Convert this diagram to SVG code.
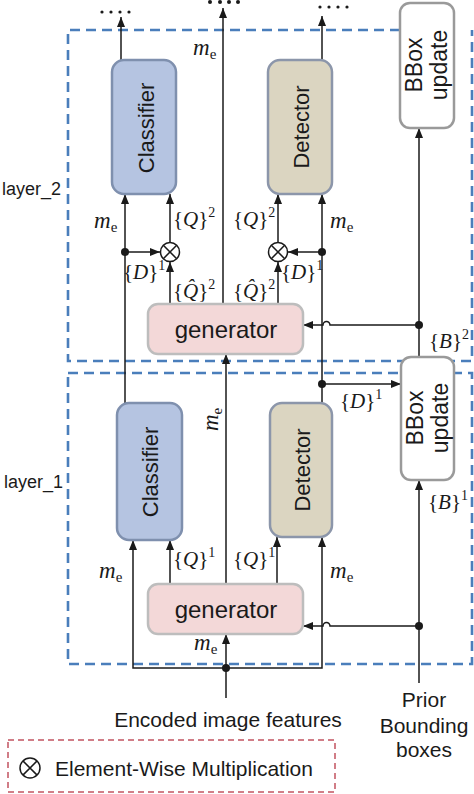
<svg xmlns="http://www.w3.org/2000/svg" width="474" height="794" viewBox="0 0 474 794">
<defs>
<marker id="ah" markerWidth="10" markerHeight="8" refX="10" refY="4" orient="auto" markerUnits="userSpaceOnUse"><path d="M0,0 L10,4 L0,8 z" fill="#1a1a1a"/></marker>
<style>
.ln{fill:none;stroke:#1a1a1a;stroke-width:1.5}
.arr{fill:none;stroke:#1a1a1a;stroke-width:1.5;marker-end:url(#ah)}
.dot{fill:#1a1a1a}
.lay{fill:none;stroke:#4a7ebb;stroke-width:2.6;stroke-dasharray:10 6}
.cls{fill:#b5c4e1;stroke:#7f90ae;stroke-width:2.5}
.det{fill:#dbd5c1;stroke:#8c96aa;stroke-width:2.5}
.gen{fill:#f3d8d8;stroke:#bdbdbd;stroke-width:2.5}
.bb{fill:#ffffff;stroke:#9a9a9a;stroke-width:2.5}
.t{font-family:"Liberation Sans",Arial,sans-serif;fill:#1a1a1a}
.m{font-family:"Liberation Serif","Times New Roman",serif;fill:#1a1a1a;font-size:21px}
.it{font-style:italic}
.otimes{fill:#ffffff;stroke:#1a1a1a;stroke-width:1.5}
</style>
</defs>

<g id="layers">
<path class="lay" d="M400,30 H68 V361 H472 V30"/>
<rect class="lay" x="68" y="373" width="404" height="291"/>
<text class="t" x="61" y="195" font-size="18" text-anchor="end">layer_2</text>
<text class="t" x="63" y="488" font-size="18" text-anchor="end">layer_1</text>
</g>

<g id="connectors">
<line class="arr" x1="121" y1="60" x2="121" y2="17"/>
<line class="arr" x1="322" y1="60" x2="322" y2="16"/>
<line class="arr" x1="223" y1="304" x2="223" y2="8"/>
<line class="arr" x1="125" y1="403" x2="125" y2="194"/>
<line class="arr" x1="125" y1="252" x2="160" y2="252"/>
<line class="arr" x1="170" y1="242" x2="170" y2="194"/>
<line class="arr" x1="170" y1="304" x2="170" y2="262"/>
<line class="arr" x1="322" y1="403" x2="322" y2="194"/>
<line class="arr" x1="322" y1="252" x2="288" y2="252"/>
<line class="arr" x1="278" y1="242" x2="278" y2="194"/>
<line class="arr" x1="278" y1="304" x2="278" y2="262"/>
<line class="arr" x1="419" y1="357" x2="419" y2="128"/>
<path class="arr" d="M419,325 H330 A3.5,3.5 0 0 0 323,325 H303"/>
<line class="arr" x1="322" y1="384" x2="401" y2="384"/>
<line class="arr" x1="419" y1="683" x2="419" y2="480"/>
<path class="arr" d="M419,626 H330 A3.5,3.5 0 0 0 323,626 H303"/>
<line class="arr" x1="226" y1="584" x2="226" y2="354"/>
<path class="arr" d="M226,668 H133 V540"/>
<path class="arr" d="M226,668 H322 V537"/>
<line class="arr" x1="170" y1="584" x2="170" y2="540"/>
<line class="arr" x1="277" y1="584" x2="277" y2="537"/>
<line class="arr" x1="226" y1="698" x2="226" y2="634"/>
<circle class="dot" cx="125" cy="252" r="4"/>
<circle class="dot" cx="322" cy="252" r="4"/>
<circle class="dot" cx="419" cy="325" r="4"/>
<circle class="dot" cx="322" cy="384" r="4"/>
<circle class="dot" cx="419" cy="626" r="4"/>
<circle class="dot" cx="226" cy="668" r="4"/>
<g class="dot">
<circle cx="102" cy="12" r="1.6"/><circle cx="111" cy="12" r="1.6"/><circle cx="120" cy="12" r="1.6"/><circle cx="129" cy="12" r="1.6"/>
<circle cx="320" cy="7" r="1.6"/><circle cx="329" cy="7" r="1.6"/><circle cx="338" cy="7" r="1.6"/><circle cx="347" cy="7" r="1.6"/>
<circle cx="210" cy="2" r="2"/><circle cx="220" cy="2" r="2"/><circle cx="229" cy="2" r="2"/><circle cx="238" cy="2" r="2"/>
</g>
</g>

<g id="mult-left">
<circle class="otimes" cx="170" cy="252" r="9.5"/>
<path class="ln" d="M163.3,245.3 L176.7,258.7 M176.7,245.3 L163.3,258.7"/>
</g>
<g id="mult-right">
<circle class="otimes" cx="278" cy="252" r="9.5"/>
<path class="ln" d="M271.3,245.3 L284.7,258.7 M284.7,245.3 L271.3,258.7"/>
</g>

<g id="classifier2">
<rect class="cls" x="112" y="60" width="64" height="134" rx="12"/>
<text class="t" font-size="22" text-anchor="middle" transform="translate(146,128) rotate(-90)" y="8">Classifier</text>
</g>
<g id="detector2">
<rect class="det" x="268" y="60" width="64" height="134" rx="12"/>
<text class="t" font-size="22" text-anchor="middle" transform="translate(301,127) rotate(-90)" y="8">Detector</text>
</g>
<g id="bbox2">
<rect class="bb" x="400" y="3" width="54" height="125" rx="10"/>
<text class="t" font-size="23" text-anchor="middle" transform="translate(0,65) rotate(-90)"><tspan x="0" y="422">BBox</tspan><tspan x="0" y="447">update</tspan></text>
</g>
<g id="generator2">
<rect class="gen" x="148" y="304" width="155" height="50" rx="10"/>
<text class="t" x="226" y="338" font-size="24" text-anchor="middle">generator</text>
</g>
<g id="classifier1">
<rect class="cls" x="117" y="403" width="65" height="137" rx="12"/>
<text class="t" font-size="22" text-anchor="middle" transform="translate(150,472) rotate(-90)" y="8">Classifier</text>
</g>
<g id="detector1">
<rect class="det" x="270" y="403" width="62" height="134" rx="12"/>
<text class="t" font-size="22" text-anchor="middle" transform="translate(302,470) rotate(-90)" y="8">Detector</text>
</g>
<g id="bbox1">
<rect class="bb" x="401" y="357" width="53" height="123" rx="10"/>
<text class="t" font-size="23" text-anchor="middle" transform="translate(0,418) rotate(-90)"><tspan x="0" y="423">BBox</tspan><tspan x="0" y="448">update</tspan></text>
</g>
<g id="generator1">
<rect class="gen" x="148" y="584" width="155" height="50" rx="10"/>
<text class="t" x="226" y="618" font-size="24" text-anchor="middle">generator</text>
</g>

<g id="labels">
<text class="m" x="193" y="55"><tspan class="it" font-size="23">m</tspan><tspan font-size="15" dy="4">e</tspan></text>
<text class="m" x="94" y="228"><tspan class="it" font-size="23">m</tspan><tspan font-size="15" dy="4">e</tspan></text>
<text class="m" x="330" y="228"><tspan class="it" font-size="23">m</tspan><tspan font-size="15" dy="4">e</tspan></text>
<text class="m" x="173" y="226">{<tspan class="it">Q</tspan>}<tspan font-size="14" dy="-9">2</tspan></text>
<text class="m" x="233" y="226">{<tspan class="it">Q</tspan>}<tspan font-size="14" dy="-9">2</tspan></text>
<text class="m" x="123" y="279">{<tspan class="it">D</tspan>}<tspan font-size="14" dy="-9">1</tspan></text>
<text class="m" x="281" y="279">{<tspan class="it">D</tspan>}<tspan font-size="14" dy="-9">1</tspan></text>
<text class="m" x="173" y="298">{<tspan class="it">Q̂</tspan>}<tspan font-size="14" dy="-9">2</tspan></text>
<text class="m" x="233" y="298">{<tspan class="it">Q̂</tspan>}<tspan font-size="14" dy="-9">2</tspan></text>
<text class="m" x="429" y="348">{<tspan class="it">B</tspan>}<tspan font-size="14" dy="-9">2</tspan></text>
<text class="m" x="340" y="408">{<tspan class="it">D</tspan>}<tspan font-size="14" dy="-9">1</tspan></text>
<text class="m" x="428" y="509">{<tspan class="it">B</tspan>}<tspan font-size="14" dy="-9">1</tspan></text>
<text class="m" transform="translate(218,431) rotate(-90)"><tspan class="it" font-size="23">m</tspan><tspan font-size="15" dy="4">e</tspan></text>
<text class="m" x="173" y="566">{<tspan class="it">Q</tspan>}<tspan font-size="14" dy="-9">1</tspan></text>
<text class="m" x="233" y="566">{<tspan class="it">Q</tspan>}<tspan font-size="14" dy="-9">1</tspan></text>
<text class="m" x="99" y="578"><tspan class="it" font-size="23">m</tspan><tspan font-size="15" dy="4">e</tspan></text>
<text class="m" x="330" y="578"><tspan class="it" font-size="23">m</tspan><tspan font-size="15" dy="4">e</tspan></text>
<text class="m" x="194" y="650"><tspan class="it" font-size="23">m</tspan><tspan font-size="15" dy="4">e</tspan></text>
<text class="t" x="228" y="727" font-size="21" text-anchor="middle">Encoded image features</text>
<text class="t" font-size="21" text-anchor="middle"><tspan x="424" y="707">Prior</tspan><tspan x="424" y="733">Bounding</tspan><tspan x="424" y="757">boxes</tspan></text>
</g>

<g id="legend">
<rect x="8" y="740" width="327" height="52" fill="none" stroke="#c25360" stroke-width="1.5" stroke-dasharray="6 4"/>
<circle class="otimes" cx="30" cy="768" r="10"/>
<path class="ln" d="M22.9,760.9 L37.1,775.1 M37.1,760.9 L22.9,775.1"/>
<text class="t" x="55" y="776" font-size="21">Element-Wise Multiplication</text>
</g>
</svg>
